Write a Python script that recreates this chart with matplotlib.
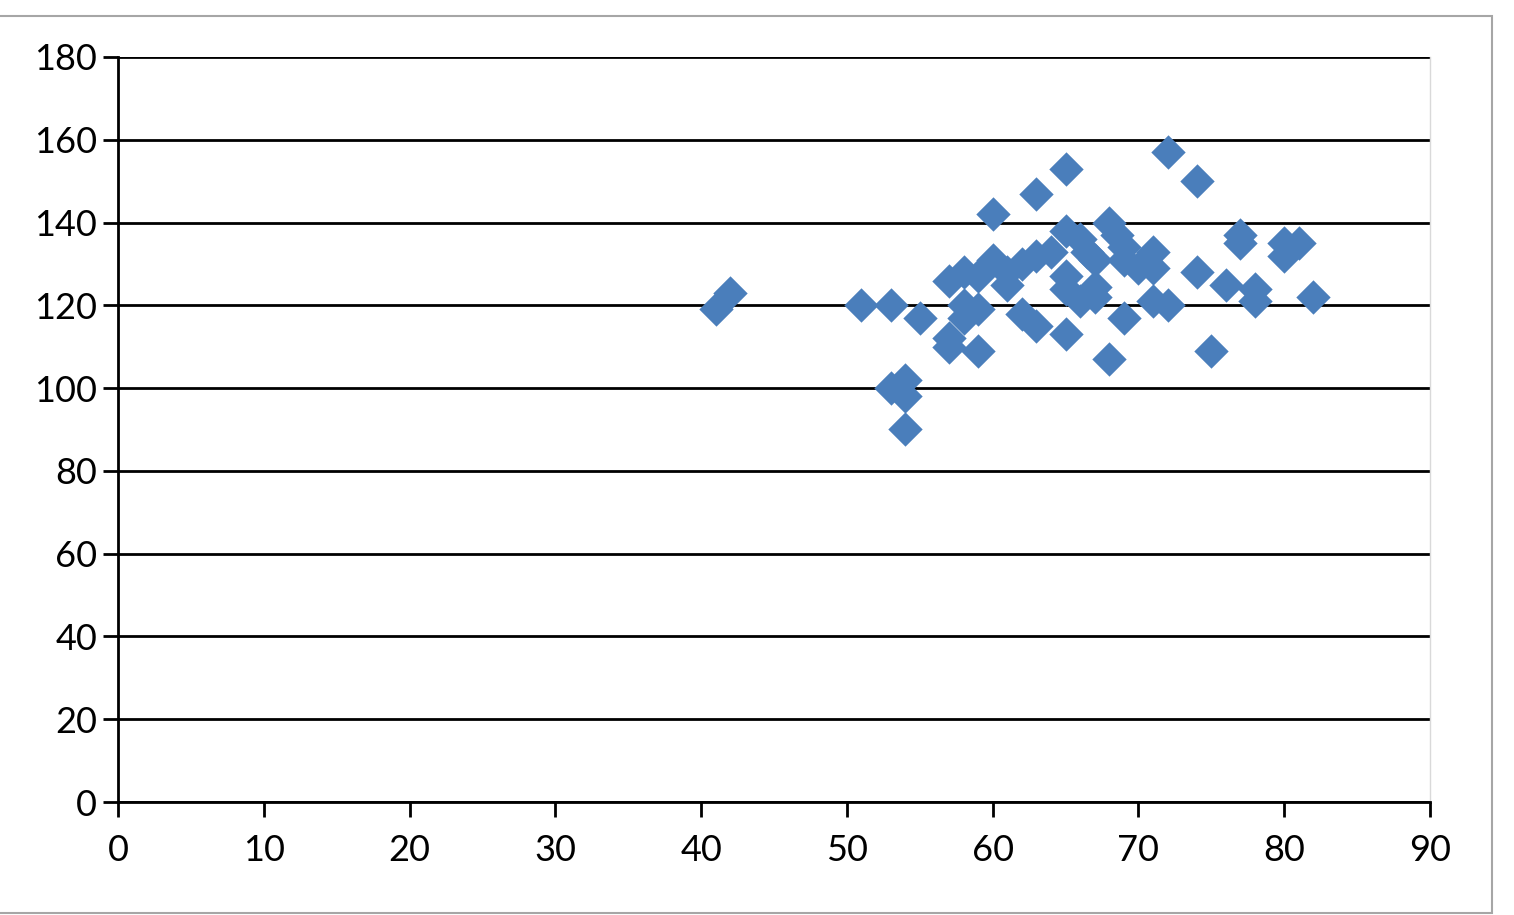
import matplotlib.pyplot as plt
from matplotlib.patches import Rectangle

# values
x_vals = [41, 42,
          51, 53, 55,
          53, 54, 54, 54,
          57, 59, 57,
          57, 58, 59, 60, 61, 62, 63, 64,
          58, 58, 59, 61,
          60, 63, 65,
          62, 63, 65,
          65, 66, 66.5, 67, 68, 68.5, 69, 70, 71, 71, 69,
          65, 65, 66, 67, 67,
          68, 69, 71, 72,
          72, 74,
          74, 76, 78, 78, 75, 82,
          77, 77, 80, 81, 80]
y_vals = [119, 123,
          120, 120, 117,
          100, 102, 98, 90,
          110, 109, 112,
          126, 128, 127, 131, 128, 130, 132, 133,
          120, 117, 119, 125,
          142, 147, 153,
          118, 115, 113,
          138, 136, 133, 131, 140, 137, 134, 129, 133, 129, 131,
          127, 124, 121, 122, 124.5,
          107, 117, 121, 120,
          157, 150,
          128, 125, 124, 121, 109, 122,
          137, 135, 135, 135, 132]

x_ticks = list(range(0, 91, 10))
y_ticks = list(range(0, 181, 20))

plt.rcParams['font.family'] = ['Lato', 'DejaVu Sans']

fig = plt.figure(figsize=(15.14, 9.15), dpi=100)
fig.patches.append(Rectangle((-0.01, 1 - 913 / 915), 1492 / 1514 + 0.01, (913 - 16) / 915,
                             transform=fig.transFigure, fill=False,
                             edgecolor='#a6a6a6', linewidth=1.5))

ax = fig.add_axes([118 / 1514, 1 - 802 / 915, (1430 - 118) / 1514, (802 - 57) / 915])
ax.scatter(x_vals, y_vals, marker='D', s=17.5 ** 2, color='#4a7ebb', linewidths=0, zorder=3)

ax.set_xlim(0, 90)
ax.set_ylim(0, 180)
ax.set_xticks(x_ticks)
ax.set_yticks(y_ticks)
ax.grid(axis='y', color='black', linewidth=2)
ax.set_axisbelow(True)

for side in ['left', 'bottom']:
    ax.spines[side].set_linewidth(2)
ax.spines['top'].set_visible(False)
ax.spines['right'].set_color('#d9d9d9')
ax.spines['right'].set_linewidth(1)

ax.tick_params(axis='both', direction='out', length=11, width=2, labelsize=26, colors='black')
ax.tick_params(axis='y', pad=4)
ax.tick_params(axis='x', pad=12)

fig.savefig('out.png', dpi=100)
